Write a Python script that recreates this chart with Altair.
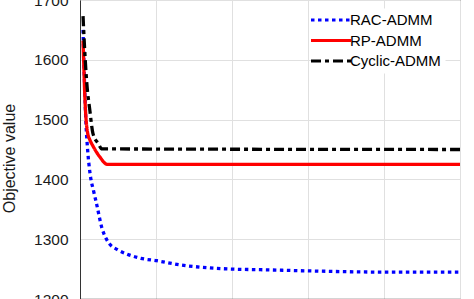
import altair as alt
import pandas as pd

series_names = ["RAC-ADMM", "RP-ADMM", "Cyclic-ADMM"]
series_colors = ["#0000ff", "#ff0000", "#000000"]
series_dashes = [[3.5, 3.5], [1, 0], [10, 4, 4, 4]]

rac_iter = [4, 6, 8, 10, 13, 18, 22, 29, 34, 39, 50, 62, 80, 101, 132, 171, 200, 237, 300, 400, 500]
rac_obj = [1650, 1560, 1490, 1450, 1412, 1380, 1358, 1318, 1302, 1292, 1282, 1275, 1268, 1264, 1257, 1252, 1250, 1249, 1247, 1245, 1245]

rp_iter = [4, 5, 6, 8, 10, 13, 17, 22, 27, 32, 36, 500]
rp_obj = [1632, 1590, 1550, 1500, 1478, 1466, 1456, 1445, 1436, 1428, 1425, 1425]

cy_iter = [4, 6, 9, 13, 17, 24, 29, 500]
cy_obj = [1673, 1620, 1560, 1515, 1477, 1460, 1451, 1450]

x_ticks = [0, 100, 200, 300, 400, 500]
y_ticks = [1200, 1300, 1400, 1500, 1600, 1700]

rows = []
for name, xs, ys in zip(series_names, [rac_iter, rp_iter, cy_iter], [rac_obj, rp_obj, cy_obj]):
    for x, y in zip(xs, ys):
        rows.append({"series": name, "iter": x, "obj": y})
df = pd.DataFrame(rows)

FONT = "Liberation Sans"

legend = alt.Legend(
    title=None,
    orient="none",
    legendX=239.5,
    legendY=8.5,
    padding=4,
    fillColor="white",
    symbolType="M-4,0H4",
    symbolSize=100,
    symbolStrokeWidth=3,
    labelFont=FONT,
    labelFontSize=15,
    labelColor="#000000",
    labelOffset=11.5,
    rowPadding=4.5,
)

chart = alt.Chart(df).mark_line(strokeWidth=3.3, clip=True, interpolate="monotone").encode(
    x=alt.X(
        "iter:Q",
        scale=alt.Scale(domain=[0, 500], nice=False),
        axis=alt.Axis(values=x_ticks, labels=False, ticks=False, title=None,
                      grid=True, gridColor="#e0e0e0", domainColor="#555555", domainWidth=1.5),
    ),
    y=alt.Y(
        "obj:Q",
        scale=alt.Scale(domain=[1200, 1700], nice=False),
        axis=alt.Axis(values=y_ticks, format="d", ticks=False, labelPadding=12,
                      labelFont=FONT, labelFontSize=15.5, labelColor="#1a1a1a",
                      grid=True, gridColor="#e0e0e0", domainColor="#333333",
                      title="Objective value", titleFont=FONT, titleFontSize=16,
                      titleFontWeight="normal", titleColor="#1a1a1a",
                      titleX=-66, titleY=158, titleAngle=270, titleAlign="center",
                      titleBaseline="alphabetic"),
    ),
    color=alt.Color("series:N", scale=alt.Scale(domain=series_names, range=series_colors), legend=legend),
    strokeDash=alt.StrokeDash("series:N", scale=alt.Scale(domain=series_names, range=series_dashes), legend=legend),
).properties(
    width=380,
    height=299,
    autosize="none",
    padding={"left": 80, "top": 0, "right": 14, "bottom": 0},
).configure_view(
    stroke="#333333",
    strokeWidth=1,
)

chart.save("out.html", embed_options={"renderer": "svg", "actions": False})
